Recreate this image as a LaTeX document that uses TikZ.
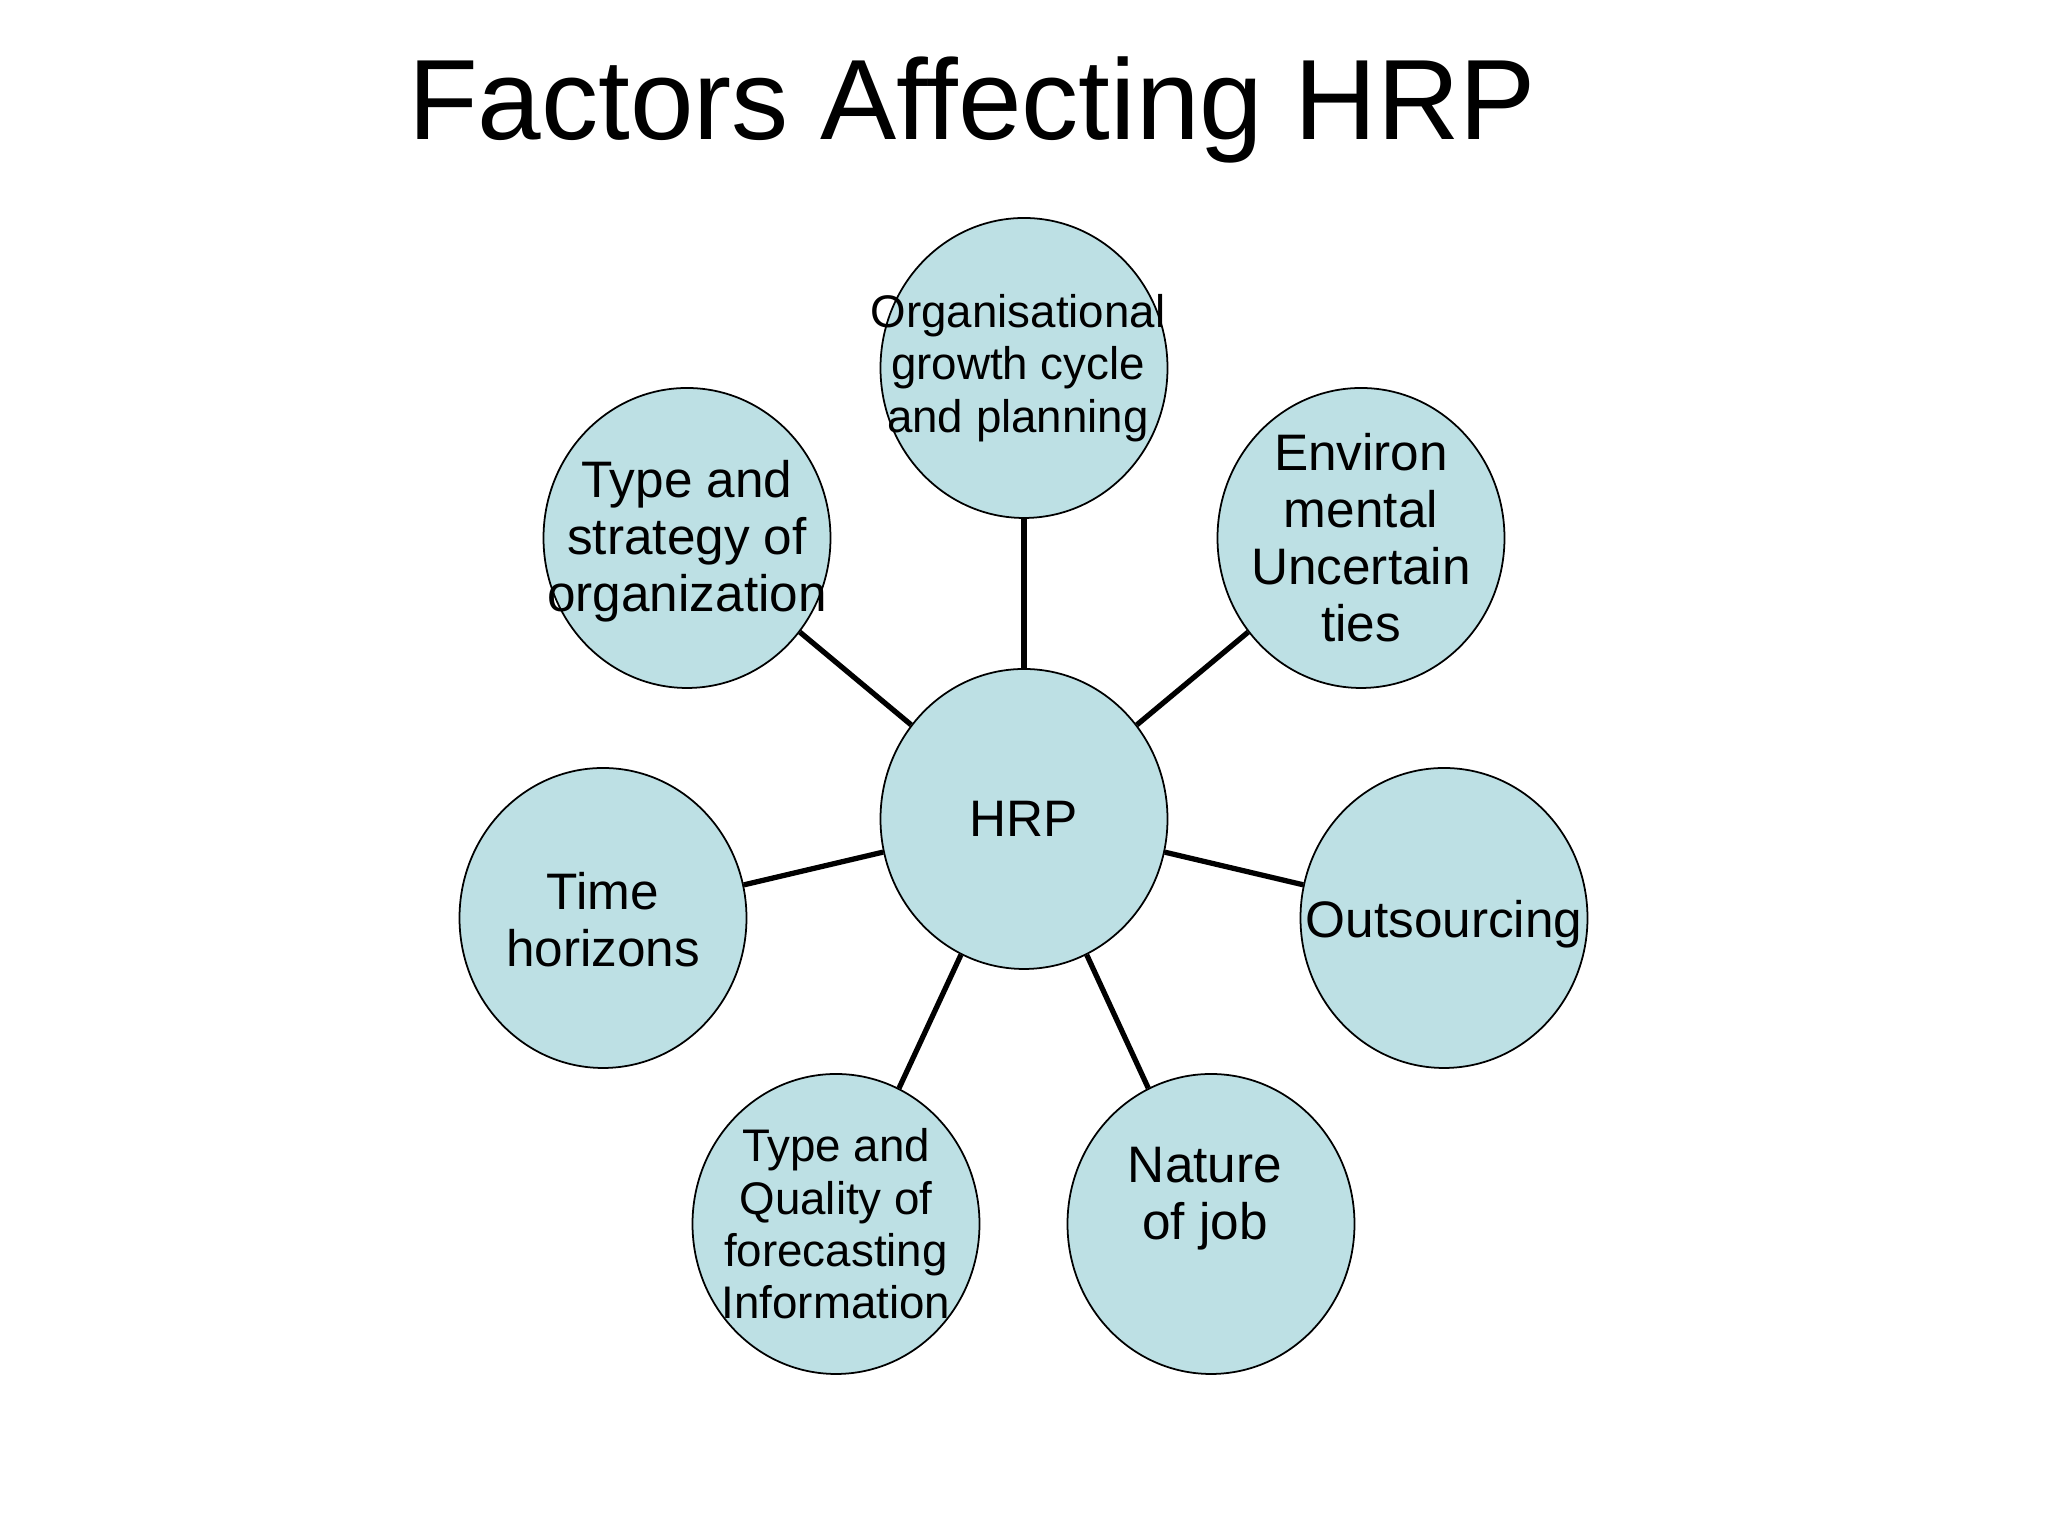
\documentclass[tikz,border=0pt]{standalone}
\usepackage{fontspec}
\setmainfont{Liberation Sans}
\usetikzlibrary{shapes.geometric}
\definecolor{bubble}{RGB}{189,224,228}
\begin{document}
\begin{tikzpicture}[bub/.style={ellipse,draw,line width=0.5pt,fill=bubble,minimum width=2.87cm,minimum height=3cm},
    big/.style={align=center,font=\fontsize{14.6}{16.2}\selectfont},
    small/.style={align=center,font=\fontsize{13}{14.9}\selectfont},
    spoke/.style={line width=1.5pt}]
    \useasboundingbox[fill=white] (0,0) rectangle (20.48,15.36);
    \node[anchor=base,font=\fontsize{32.5}{39}\selectfont] (t) at (9.72,13.96) {Factors Affecting HRP};
    \node[bub,label={[big]center:HRP}] (h) at (10.24,7.17) {};
    \node[bub,label={[small,xshift=-0.06cm]center:{Organisational\\growth cycle\\and planning}}] (a) at (10.24,11.68) {};
    \node[bub,label={[big]center:{Environ\\mental\\Uncertain\\ties}}] (b) at (13.61,9.98) {};
    \node[bub,label={[big,yshift=-0.06cm]center:Outsourcing}] (c) at (14.44,6.18) {};
    \node[bub,label={[big,xshift=-0.06cm,yshift=0.25cm]center:{Nature\\of job}}] (d) at (12.11,3.12) {};
    \node[bub,label={[small]center:{Type and\\Quality of\\forecasting\\Information}}] (e) at (8.36,3.12) {};
    \node[bub,label={[big,yshift=-0.02cm]center:{Time\\horizons}}] (f) at (6.03,6.18) {};
    \node[bub,label={[big,yshift=-0.03cm]center:{Type and\\strategy of\\organization}}] (g) at (6.87,9.98) {};
    \draw[spoke] (h) -- (a); \draw[spoke] (h) -- (b); \draw[spoke] (h) -- (c); \draw[spoke] (h) -- (d);
    \draw[spoke] (h) -- (e); \draw[spoke] (h) -- (f); \draw[spoke] (h) -- (g);
\end{tikzpicture}
\end{document}
